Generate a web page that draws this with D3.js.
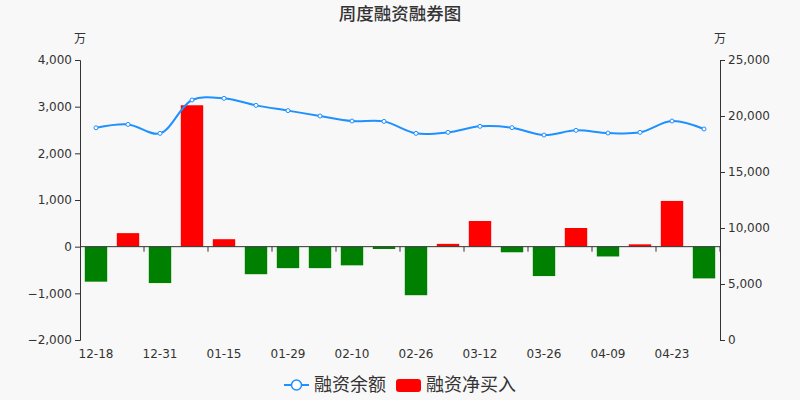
<!DOCTYPE html>
<html><head><meta charset="utf-8">
<script src="https://cdn.jsdelivr.net/npm/d3@7/dist/d3.min.js"></script>
<style>
body{margin:0;background:#f8f8f8;}
svg{display:block;font-family:"Noto Sans CJK SC","Noto Sans",sans-serif;}
</style></head>
<body>
<svg id="c" width="800" height="400"></svg>
<script>
const dates = ["12-18","12-24","12-31","01-07","01-15","01-22","01-29","02-05","02-10","02-19","02-26","03-05","03-12","03-19","03-26","04-02","04-09","04-16","04-23","04-30"];
const netBuy = [-750,290,-780,3030,160,-590,-460,-460,-400,-50,-1040,60,550,-120,-630,400,-210,50,980,-680];
const balance = [18950,19250,18450,21430,21580,20950,20480,20000,19550,19520,18450,18540,19080,18960,18300,18720,18480,18540,19550,18840];
const leftTicks = [-2000,-1000,0,1000,2000,3000,4000];
const rightTicks = [0,5000,10000,15000,20000,25000];
const title = "周度融资融券图";
const legendNames = ["融资余额","融资净买入"];

const svg = d3.select("#c");
svg.append("rect").attr("width",800).attr("height",400).attr("fill","#f8f8f8");
const L=80,R=720,T=60,B=340;
const x = d3.scaleBand().domain(dates).range([L,R]);
const yL = d3.scaleLinear().domain([-2000,4000]).range([B,T]);
const yR = d3.scaleLinear().domain([0,25000]).range([B,T]);
const fmt = d3.format(",");

svg.append("text").attr("x",400).attr("y",20).attr("text-anchor","middle")
  .attr("font-size",17.5).attr("fill","#333").attr("font-weight","500").text(title);
svg.append("text").attr("x",80).attr("y",43).attr("text-anchor","middle").attr("font-size",12).attr("fill","#333").text("万");
svg.append("text").attr("x",720).attr("y",43).attr("text-anchor","middle").attr("font-size",12).attr("fill","#333").text("万");

const ga = svg.append("g").attr("transform",`translate(${L},0)`)
  .call(d3.axisLeft(yL).tickValues(leftTicks).tickFormat(fmt).tickSizeOuter(0).tickSize(5).tickPadding(3));
const gb = svg.append("g").attr("transform",`translate(${R},0)`)
  .call(d3.axisRight(yR).tickValues(rightTicks).tickFormat(fmt).tickSizeOuter(0).tickSize(5).tickPadding(3));
[ga,gb].forEach(g=>{
  g.select(".domain").attr("stroke","#333");
  g.selectAll(".tick line").attr("stroke","#333");
  g.selectAll("text").attr("fill","#333").attr("font-size",12).attr("font-family","DejaVu Sans, sans-serif");
});

const bw = x.bandwidth()*0.7;
svg.append("g").selectAll("rect").data(netBuy).join("rect")
  .attr("x",(d,i)=>x(dates[i])+x.bandwidth()/2-bw/2)
  .attr("width",bw)
  .attr("y",d=>d>=0?yL(d):yL(0))
  .attr("height",d=>Math.abs(yL(d)-yL(0)))
  .attr("fill",d=>d>=0?"#ff0000":"#008000");

const y0 = yL(0);
svg.append("line").attr("x1",L).attr("x2",R).attr("y1",y0).attr("y2",y0).attr("stroke","#333");
const tickIdx = dates.map((d,i)=>i).filter(i=>i%2===1);
svg.append("g").selectAll("line").data(tickIdx).join("line")
  .attr("x1",i=>x(dates[i])+x.bandwidth()).attr("x2",i=>x(dates[i])+x.bandwidth())
  .attr("y1",y0).attr("y2",y0+5).attr("stroke","#333");
svg.append("g").selectAll("text").data(dates.filter((d,i)=>i%2===0)).join("text")
  .attr("x",d=>x(d)+x.bandwidth()/2).attr("y",358).attr("text-anchor","middle")
  .attr("font-size",12).attr("fill","#333").attr("font-family","DejaVu Sans, sans-serif").text(d=>d);

const line = d3.line().x((d,i)=>x(dates[i])+x.bandwidth()/2).y(d=>yR(d)).curve(d3.curveCatmullRom.alpha(0.5));
svg.append("path").datum(balance).attr("d",line).attr("fill","none").attr("stroke","#1e90ff").attr("stroke-width",2);
svg.append("g").selectAll("circle").data(balance).join("circle")
  .attr("cx",(d,i)=>x(dates[i])+x.bandwidth()/2).attr("cy",d=>yR(d)).attr("r",2)
  .attr("fill","#fff").attr("stroke","#1e90ff").attr("stroke-width",1);

const lg = svg.append("g");
lg.append("line").attr("x1",284).attr("x2",309).attr("y1",385).attr("y2",385).attr("stroke","#1e90ff").attr("stroke-width",2);
lg.append("circle").attr("cx",296.5).attr("cy",385).attr("r",5).attr("fill","#fff").attr("stroke","#1e90ff").attr("stroke-width",1.5);
lg.append("text").attr("x",314).attr("y",391).attr("font-size",18).attr("fill","#333").text(legendNames[0]);
lg.append("rect").attr("x",396).attr("y",379).attr("width",25).attr("height",13).attr("rx",3).attr("fill","#ff0000");
lg.append("text").attr("x",426).attr("y",391).attr("font-size",18).attr("fill","#333").text(legendNames[1]);
</script>
</body></html>
